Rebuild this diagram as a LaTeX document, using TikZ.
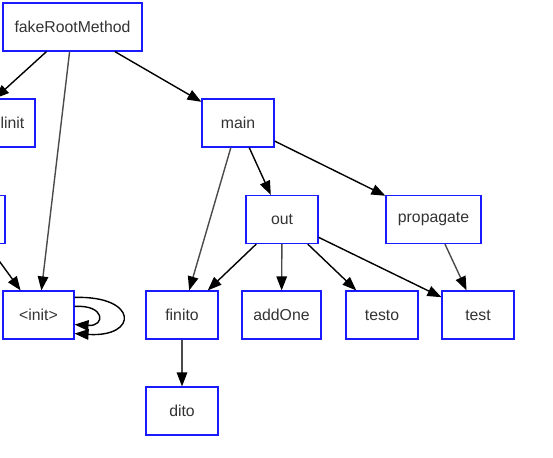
\documentclass[tikz,border=0pt]{standalone}
\usepackage{fontspec}
\setmainfont{Liberation Sans}
\usetikzlibrary{arrows.meta,calc}
\definecolor{txt}{HTML}{333333}
\definecolor{edgegray}{HTML}{4a4a4a}
\definecolor{boxblue}{HTML}{1A1AFF}
\begin{document}
\begin{tikzpicture}[x=1pt,y=-1pt,
  box/.style={draw=boxblue,line width=1.15pt,fill=white,minimum height=48pt,minimum width=72pt,inner sep=0pt,text=txt,font=\fontsize{15.8pt}{18pt}\selectfont},
  arr/.style={line width=1.4pt,-{Triangle[length=14pt,width=10.5pt,color=black]}},
  blk/.style={arr,draw=black},
  gry/.style={arr,draw=edgegray}]
\useasboundingbox (0,0) rectangle (553,457);
\clip (0,0) rectangle (553,457);
\node[box,minimum width=139pt] (fr) at (72.5,27) {fakeRootMethod};
\node[box] (clinit) at (-1,123) {\hspace*{19pt}clinit};
\node[box] (lft) at (-31,219.5) {};
\node[box,minimum width=71pt] (init) at (38.5,315) {<init>};
\node[box] (main) at (238,123) {main};
\node[box] (out) at (282,219.5) {out};
\node[box,minimum width=95pt] (prop) at (433.5,219.5) {propagate};
\node[box] (finito) at (182,315) {finito};
\node[box,minimum width=79pt] (addone) at (281.5,315) {addOne};
\node[box] (testo) at (382,315) {testo};
\node[box] (test) at (478,315) {test};
\node[box] (dito) at (182,411) {dito};

\draw[blk] ($(fr.south)+(-26,0)$) -- ($(clinit.north)+(-4,0)$);
\draw[gry] (fr) -- (init);
\draw[blk] (fr) -- (main);
\draw[blk] (lft) -- (init);
\draw[blk] ($(init.north east)+(0,7)$) .. controls +(64,-2) and +(64,4) .. ($(init.south east)+(0,-6)$);
\draw[blk] ($(init.north east)+(0,16)$) .. controls +(31,-2) and +(31,2) .. ($(init.south east)+(0,-15)$);
\draw[gry] (main) -- (finito);
\draw[blk] (main) -- (out);
\draw[blk] (main) -- (prop);
\draw[blk] (out) -- (finito);
\draw[gry] (out) -- (addone);
\draw[blk] (out) -- (testo);
\draw[blk] (out) -- (test);
\draw[gry] (prop) -- (test);
\draw[gry] (finito) -- (dito);
\end{tikzpicture}
\end{document}
